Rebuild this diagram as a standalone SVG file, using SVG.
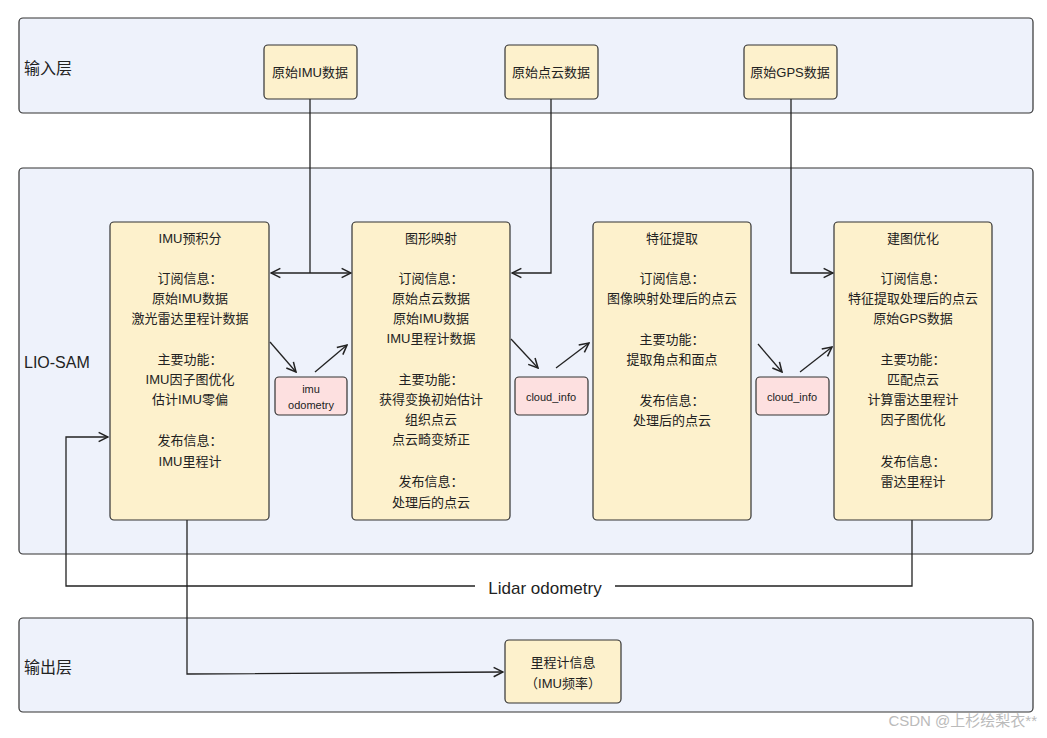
<svg xmlns="http://www.w3.org/2000/svg" width="1047" height="738" viewBox="0 0 1047 738">
<defs>
<style>
text{font-family:"Liberation Sans","Noto Sans CJK SC",sans-serif;fill:#222}
.layer{fill:#eef2fb;stroke:#333;stroke-width:1.2}
.node{fill:#fdf1cc;stroke:#333;stroke-width:1.2}
.msg{fill:#fde0e0;stroke:#333;stroke-width:1.2}
.t{font-size:13px;text-anchor:middle}
.s{font-size:11px;text-anchor:middle}
.c{fill:none;stroke:#222;stroke-width:1.3}
</style>
<marker id="a" viewBox="0 0 10 10" refX="9" refY="5" markerWidth="9" markerHeight="9" orient="auto-start-reverse"><path d="M1,1 L9,5 L1,9" fill="none" stroke="#222" stroke-width="1.3"/></marker>
</defs>
<rect width="1047" height="738" fill="#fff"/>
<g id="layer-input"><rect class="layer" x="19" y="18" width="1014" height="95" rx="4"/><text x="24" y="74" font-size="16">输入层</text></g>
<g id="layer-lio"><rect class="layer" x="19" y="168" width="1014" height="386" rx="4"/><text x="24" y="368" font-size="16">LIO-SAM</text></g>
<g id="layer-output"><rect class="layer" x="19" y="618" width="1014" height="94" rx="4"/><text x="24" y="673" font-size="16">输出层</text></g>
<g id="connectors">
<path class="c" d="M310,99 V273"/>
<path class="c" d="M271,273 H351" marker-start="url(#a)" marker-end="url(#a)"/>
<path class="c" d="M551,99 V273 H512" marker-end="url(#a)"/>
<path class="c" d="M791,99 V273 H833" marker-end="url(#a)"/>
<path class="c" d="M270,342 L296,372" marker-end="url(#a)"/>
<path class="c" d="M315,372 L347,345" marker-end="url(#a)"/>
<path class="c" d="M511,339 L538,368" marker-end="url(#a)"/>
<path class="c" d="M556,368 L589,343" marker-end="url(#a)"/>
<path class="c" d="M758,344 L782,372" marker-end="url(#a)"/>
<path class="c" d="M800,372 L832,347" marker-end="url(#a)"/>
<path class="c" d="M912,520 V586 H66 V437 H108" marker-end="url(#a)"/>
<path class="c" d="M187,520 V674 L503,672" marker-end="url(#a)"/>
<rect x="475" y="577" width="140" height="22" fill="#fff"/>
<text x="545" y="594" font-size="17" text-anchor="middle">Lidar odometry</text>
</g>
<g id="in-imu"><rect class="node" x="264" y="45" width="93" height="54" rx="4"/><text class="t" x="310" y="77">原始IMU数据</text></g>
<g id="in-cloud"><rect class="node" x="505" y="45" width="93" height="54" rx="4"/><text class="t" x="551" y="77">原始点云数据</text></g>
<g id="in-gps"><rect class="node" x="744" y="45" width="93" height="54" rx="4"/><text class="t" x="790" y="77">原始GPS数据</text></g>
<g id="imu-preint"><rect class="node" x="110" y="222" width="159" height="298" rx="4"/>
<text class="t" x="190" y="243">IMU预积分</text>
<text class="t" x="190" y="283">订阅信息：</text><text class="t" x="190" y="303">原始IMU数据</text><text class="t" x="190" y="323">激光雷达里程计数据</text>
<text class="t" x="190" y="364">主要功能：</text><text class="t" x="190" y="384">IMU因子图优化</text><text class="t" x="190" y="404">估计IMU零偏</text>
<text class="t" x="190" y="445">发布信息：</text><text class="t" x="190" y="466">IMU里程计</text></g>
<g id="image-proj"><rect class="node" x="352" y="222" width="158" height="298" rx="4"/>
<text class="t" x="431" y="243">图形映射</text>
<text class="t" x="431" y="283">订阅信息：</text><text class="t" x="431" y="303">原始点云数据</text><text class="t" x="431" y="323">原始IMU数据</text><text class="t" x="431" y="343">IMU里程计数据</text>
<text class="t" x="431" y="384">主要功能：</text><text class="t" x="431" y="404">获得变换初始估计</text><text class="t" x="431" y="424">组织点云</text><text class="t" x="431" y="444">点云畸变矫正</text>
<text class="t" x="431" y="486">发布信息：</text><text class="t" x="431" y="507">处理后的点云</text></g>
<g id="feature"><rect class="node" x="593" y="222" width="158" height="298" rx="4"/>
<text class="t" x="672" y="243">特征提取</text>
<text class="t" x="672" y="283">订阅信息：</text><text class="t" x="672" y="303">图像映射处理后的点云</text>
<text class="t" x="672" y="344">主要功能：</text><text class="t" x="672" y="364">提取角点和面点</text>
<text class="t" x="672" y="405">发布信息：</text><text class="t" x="672" y="425">处理后的点云</text></g>
<g id="mapopt"><rect class="node" x="834" y="222" width="158" height="298" rx="4"/>
<text class="t" x="913" y="243">建图优化</text>
<text class="t" x="913" y="283">订阅信息：</text><text class="t" x="913" y="303">特征提取处理后的点云</text><text class="t" x="913" y="323">原始GPS数据</text>
<text class="t" x="913" y="364">主要功能：</text><text class="t" x="913" y="384">匹配点云</text><text class="t" x="913" y="404">计算雷达里程计</text><text class="t" x="913" y="424">因子图优化</text>
<text class="t" x="913" y="466">发布信息：</text><text class="t" x="913" y="486">雷达里程计</text></g>
<g id="msg-imu"><rect class="msg" x="275" y="377" width="72" height="38" rx="4"/><text class="s" x="311" y="393">imu</text><text class="s" x="311" y="409">odometry</text></g>
<g id="msg-cloud1"><rect class="msg" x="515" y="377" width="73" height="38" rx="4"/><text class="s" x="551" y="401">cloud_info</text></g>
<g id="msg-cloud2"><rect class="msg" x="756" y="377" width="73" height="38" rx="4"/><text class="s" x="792" y="401">cloud_info</text></g>
<g id="out-odom"><rect class="node" x="505" y="640" width="116" height="63" rx="4"/><text class="t" x="563" y="667">里程计信息</text><text class="t" x="563" y="688">（IMU频率）</text></g>
<text x="1037" y="726" font-size="15" text-anchor="end" fill="#bbb" style="fill:#bbb">CSDN @上杉绘梨衣**</text>
</svg>
